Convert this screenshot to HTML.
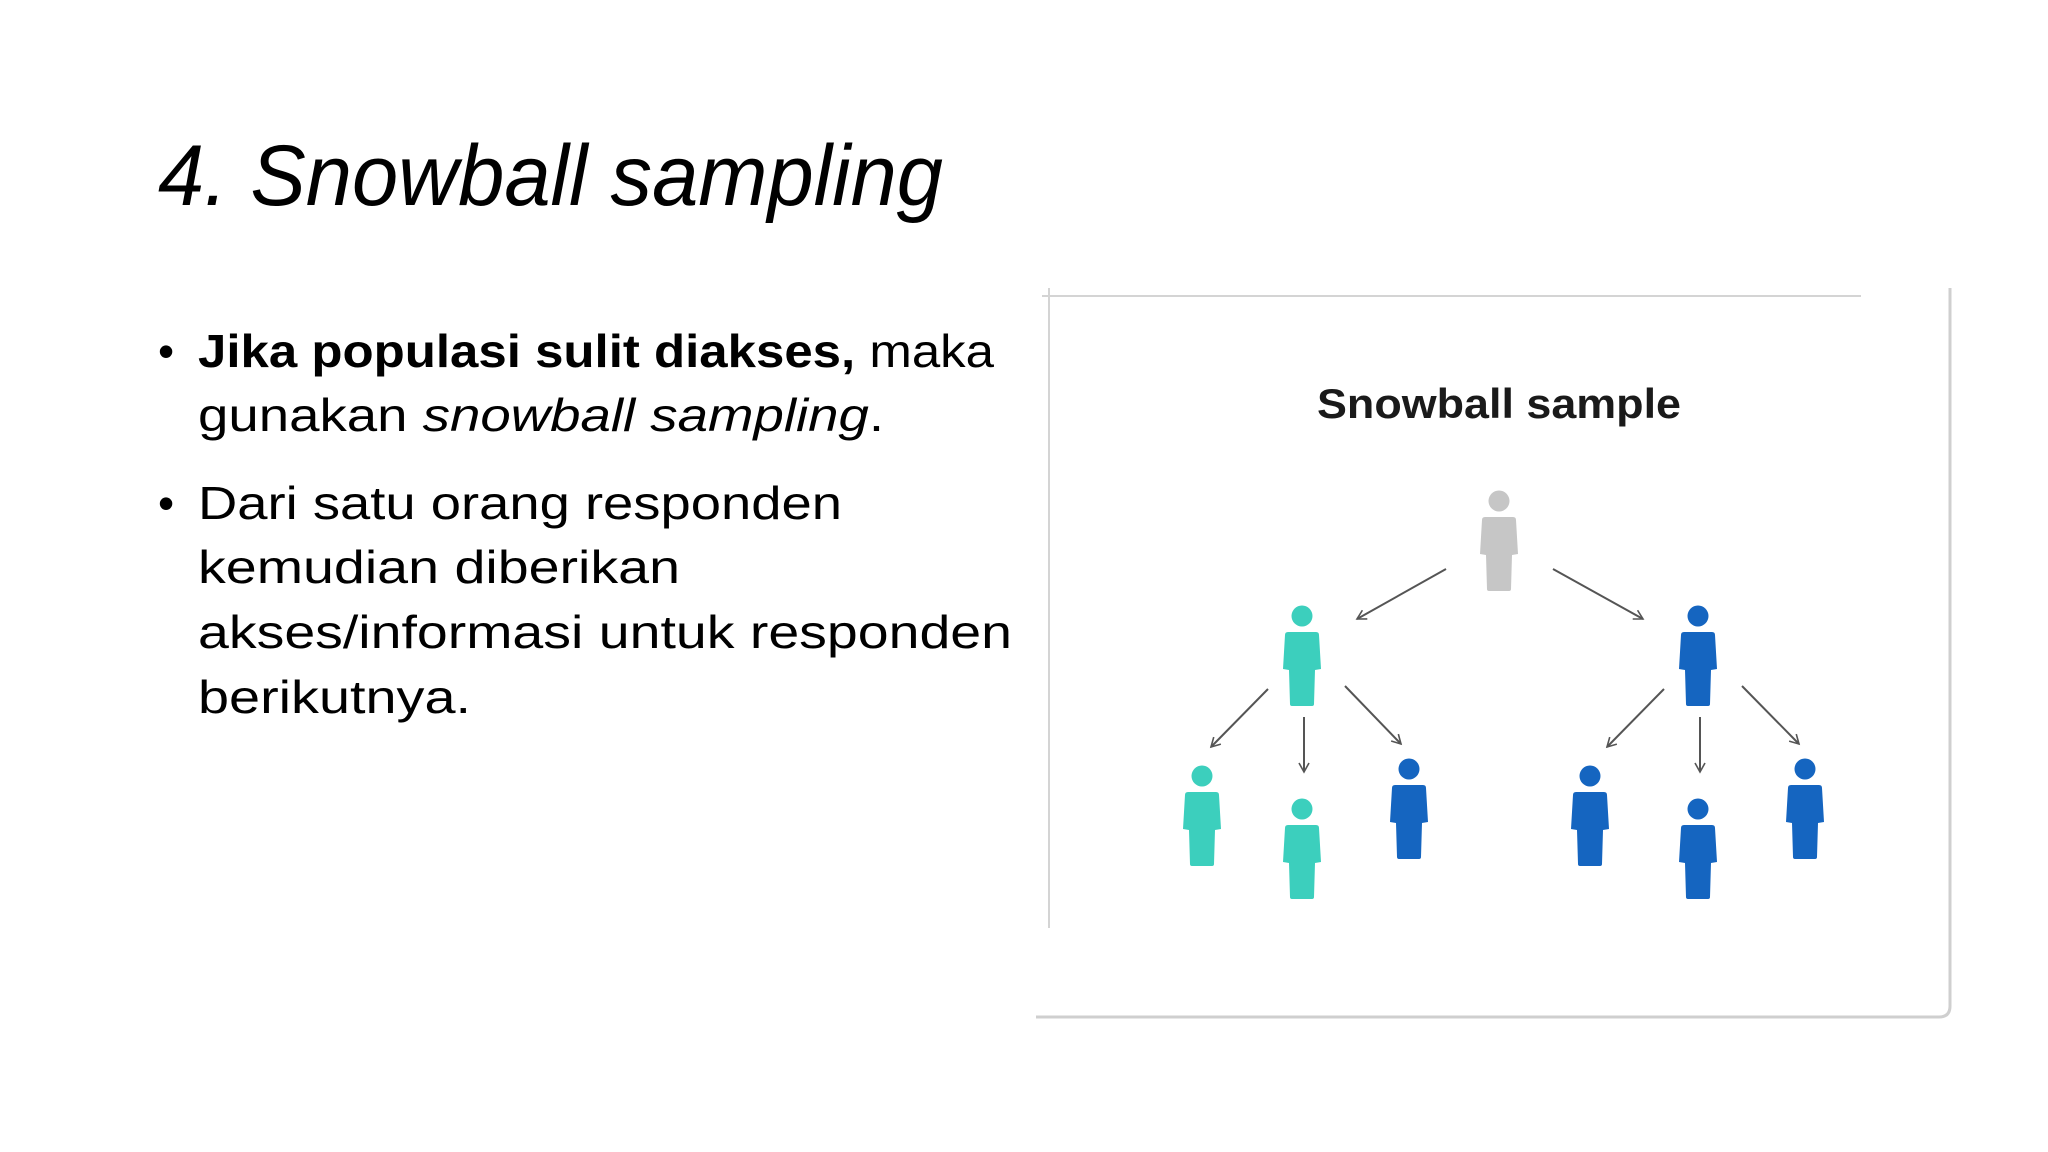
<!DOCTYPE html>
<html><head><meta charset="utf-8"><style>
html,body{margin:0;padding:0;background:#fff;}
svg{display:block;}
</style></head><body>
<svg width="2048" height="1152" viewBox="0 0 2048 1152" xmlns="http://www.w3.org/2000/svg">
<defs>
<g id="p">
<circle cx="19" cy="10" r="10.5"/>
<path d="M2,29 Q2,26 5,26 L33,26 Q36,26 36,29 L38,63 L32,64 L31,98 Q31,100 29,100 L9,100 Q7,100 7,98 L6,64 L0,63 Z"/>
</g>
<marker id="a" markerWidth="12" markerHeight="12" refX="10" refY="6" orient="auto" markerUnits="userSpaceOnUse">
<path d="M1,1 L10,6 L1,11" fill="none" stroke="#555" stroke-width="1.6"/>
</marker>
</defs>
<rect width="2048" height="1152" fill="#fff"/>
<text x="158" y="205" font-family="Liberation Sans, sans-serif" font-style="italic" font-size="86" fill="#000" textLength="785" lengthAdjust="spacingAndGlyphs">4. Snowball sampling</text>
<g font-family="Liberation Sans, sans-serif" font-size="46" fill="#000">
<text x="158" y="367">•</text>
<text x="198" y="367" textLength="796" lengthAdjust="spacingAndGlyphs"><tspan font-weight="bold">Jika populasi sulit diakses,</tspan> maka</text>
<text x="198" y="431" textLength="686" lengthAdjust="spacingAndGlyphs">gunakan <tspan font-style="italic">snowball sampling</tspan>.</text>
<text x="158" y="519">•</text>
<text x="198" y="519" textLength="644" lengthAdjust="spacingAndGlyphs">Dari satu orang responden</text>
<text x="198" y="583" textLength="482" lengthAdjust="spacingAndGlyphs">kemudian diberikan</text>
<text x="198" y="648" textLength="814" lengthAdjust="spacingAndGlyphs">akses/informasi untuk responden</text>
<text x="198" y="713" textLength="273" lengthAdjust="spacingAndGlyphs">berikutnya.</text>
</g>
<g fill="none" stroke="#d4d4d4" stroke-width="2">
<line x1="1042" y1="296" x2="1861" y2="296"/>
<line x1="1049" y1="288" x2="1049" y2="928"/>
<path d="M1950,288 L1950,1006 Q1950,1017 1939,1017 L1036,1017" stroke="#cfcfcf" stroke-width="3"/>
</g>
<text x="1317" y="418" font-family="Liberation Sans, sans-serif" font-weight="bold" font-size="42" fill="#1a1a1a" textLength="364" lengthAdjust="spacingAndGlyphs">Snowball sample</text>
<g stroke="#555" stroke-width="2" marker-end="url(#a)">
<line x1="1446" y1="569" x2="1357" y2="619"/>
<line x1="1553" y1="569" x2="1643" y2="619"/>
<line x1="1268" y1="689" x2="1211" y2="747"/>
<line x1="1304" y1="717" x2="1304" y2="772"/>
<line x1="1345" y1="686" x2="1401" y2="744"/>
<line x1="1664" y1="689" x2="1607" y2="747"/>
<line x1="1700" y1="717" x2="1700" y2="772"/>
<line x1="1742" y1="686" x2="1799" y2="744"/>
</g>
<use href="#p" fill="#c6c6c6" transform="translate(1480,491)"/>
<use href="#p" fill="#3ccfbd" transform="translate(1283,606)"/>
<use href="#p" fill="#1565c0" transform="translate(1679,606)"/>
<use href="#p" fill="#3ccfbd" transform="translate(1183,766)"/>
<use href="#p" fill="#3ccfbd" transform="translate(1283,799)"/>
<use href="#p" fill="#1565c0" transform="translate(1390,759)"/>
<use href="#p" fill="#1565c0" transform="translate(1571,766)"/>
<use href="#p" fill="#1565c0" transform="translate(1679,799)"/>
<use href="#p" fill="#1565c0" transform="translate(1786,759)"/>
</svg>
</body></html>
